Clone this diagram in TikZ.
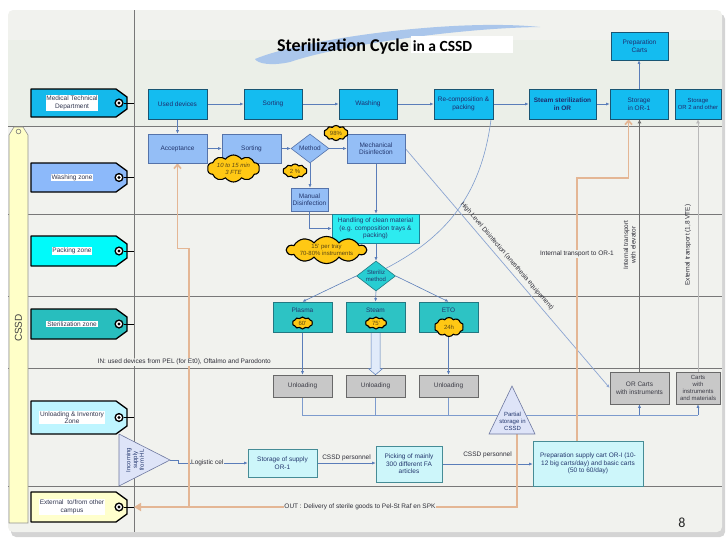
\documentclass[tikz,border=0pt]{standalone}
\usepackage{fontspec}
\setmainfont{Liberation Sans}
\newfontfamily\titlefont{Carlito}
\usetikzlibrary{shapes.geometric,shapes.symbols,arrows.meta,calc}
\pgfdeclarelayer{bg}
\pgfsetlayers{bg,main}

\definecolor{panel}{RGB}{241,242,238}
\definecolor{panelband}{RGB}{235,239,232}
\definecolor{shadowc}{RGB}{212,212,212}
\definecolor{lanec}{RGB}{120,120,120}
\definecolor{topfill}{RGB}{20,188,240}
\definecolor{topedge}{RGB}{25,85,115}
\definecolor{toptxt}{RGB}{30,45,110}
\definecolor{txt}{RGB}{35,55,110}
\definecolor{washfill}{RGB}{148,190,246}
\definecolor{washedge}{RGB}{85,115,170}
\definecolor{cyanfill}{RGB}{45,235,240}
\definecolor{cyanedge}{RGB}{30,130,150}
\definecolor{tealfill}{RGB}{45,195,196}
\definecolor{tealedge}{RGB}{35,120,130}
\definecolor{stdia}{RGB}{40,205,210}
\definecolor{grayfill}{RGB}{200,200,200}
\definecolor{grayedge}{RGB}{105,105,105}
\definecolor{graytxt}{RGB}{60,60,70}
\definecolor{lcfill}{RGB}{205,246,250}
\definecolor{lcedge}{RGB}{70,140,150}
\definecolor{trifill}{RGB}{222,228,248}
\definecolor{triedge}{RGB}{110,120,160}
\definecolor{gold}{RGB}{255,200,20}
\definecolor{cloudtxt}{RGB}{90,70,20}
\definecolor{flowc}{RGB}{90,125,185}
\definecolor{flowl}{RGB}{125,155,205}
\definecolor{hlc}{RGB}{140,165,210}
\definecolor{tanc}{RGB}{228,182,148}
\definecolor{grayline}{RGB}{110,110,110}
\definecolor{lgrayline}{RGB}{185,185,185}
\definecolor{lbltxt}{RGB}{45,45,55}
\definecolor{tagtxtc}{RGB}{50,55,80}
\definecolor{tagA}{RGB}{20,185,235}
\definecolor{tagB}{RGB}{140,185,250}
\definecolor{tagC}{RGB}{0,250,250}
\definecolor{tagD}{RGB}{40,190,190}
\definecolor{tagE}{RGB}{190,245,255}
\definecolor{tagF}{RGB}{255,255,205}
\definecolor{barfill}{RGB}{255,255,200}
\definecolor{swoosh}{RGB}{170,198,235}
\definecolor{hollowf}{RGB}{225,235,250}

\newcommand{\zonetag}[5]{%
  \filldraw[fill=#4,draw=black,line width=1.3pt,line join=round]
    (31,#2-#3) -- (116,#2-#3) -- (127,#2-#3+8) -- (127,#2+#3-8) -- (116,#2+#3) -- (31,#2+#3) -- cycle;
  \fill[black] (119,#2) circle (4.6pt);
  \fill[white] (119,#2) circle (3pt);
  \fill[black] (119,#2) circle (1.7pt);
  \draw[black,line width=1pt] (123.5,#2) -- (134,#2);
  \coordinate (#1pin) at (134,#2);
  \node[tagtxt] (#1) at (72,#2) {#5};
}

\begin{document}
\begin{tikzpicture}[x=1pt,y=-1pt,
  txtbase/.style={font=\fontsize{6.5}{7.6}\selectfont, align=center, inner sep=1pt, text=txt},
  topbox/.style={txtbase, draw=topedge, fill=topfill, line width=0.7pt, minimum height=30pt, text=toptxt},
  washbox/.style={txtbase, draw=washedge, fill=washfill, line width=0.6pt},
  cyanbox/.style={txtbase, draw=cyanedge, fill=cyanfill, line width=0.6pt},
  tealbox/.style={txtbase, draw=tealedge, fill=tealfill, line width=0.6pt, minimum width=59pt, minimum height=30pt},
  graybox/.style={txtbase, draw=grayedge, fill=grayfill, line width=0.6pt, text=graytxt},
  lcbox/.style={txtbase, draw=lcedge, fill=lcfill, line width=0.7pt},
  dia/.style={diamond, draw=washedge, fill=washfill, line width=0.6pt, inner sep=0pt},
  puff/.style={cloud, cloud puffs=10, cloud puff arc=110, cloud ignores aspect, draw=black, line width=1.1pt, fill=gold, inner sep=0pt, font=\fontsize{6}{7}\selectfont, align=center, text=cloudtxt},
  lbl/.style={txtbase, text=lbltxt},
  flow/.style={draw=flowc, line width=0.6pt, -{Latex[length=3.5pt,width=3pt]}},
  flowthin/.style={draw=flowl, line width=0.6pt},
  tanl/.style={draw=tanc, line width=1.7pt},
  lane/.style={draw=lanec, line width=0.7pt},
  tagtxt/.style={txtbase, fill=white, inner sep=0.8pt, text=tagtxtc},
]
\useasboundingbox (0,0) rectangle (728,546);

\begin{pgfonlayer}{bg}
  \fill[shadowc, rounded corners=5pt] (11,14) rectangle (725,537);
  \fill[panel, rounded corners=5pt] (8,10) rectangle (722,532);
  \fill[panelband] (8,40) rectangle (722,126);
  \fill[swoosh] (255,59) .. controls (300,40) and (450,18) .. (540,27)
     .. controls (460,28) and (340,45) .. (290,62)
     .. controls (272,66) and (258,64) .. (255,59) -- cycle;
  \fill[white] (411,36) rectangle (513,53);
  \foreach \yy in {126,214,296,368,486} \draw[lane] (8,\yy) -- (722,\yy);
  \draw[lane] (134,10) -- (134,532);
\end{pgfonlayer}

% title
\node[anchor=base west, inner sep=0, font=\titlefont\bfseries\fontsize{18}{20}\selectfont] (title) at (277,51) {Sterilization Cycle};
\node[anchor=base west, inner sep=0, font=\titlefont\bfseries\fontsize{15.5}{18}\selectfont] (title2) at ([xshift=3.5pt]title.base east) {in a CSSD};

% CSSD bar
\filldraw[fill=barfill, draw=lanec!80, line width=0.6pt] (9,135) -- (14,127) -- (23,127) -- (28,135) -- (28,523) -- (9,523) -- cycle;
\draw[lanec, line width=0.6pt] (18.5,131.5) circle (2.3pt);
\node[rotate=90, font=\fontsize{10}{12}\selectfont, text=black!75] (cssd) at (18.5,328) {CSSD};

% zone tags
\zonetag{mtd}{103}{14}{tagA}{Medical Technical\\Department}
\zonetag{washz}{177.5}{14.5}{tagB}{Washing zone}
\zonetag{packz}{251}{15}{tagC}{Packing zone}
\zonetag{sterz}{324}{15}{tagD}{Sterilization zone}
\zonetag{unlz}{417.5}{16.5}{tagE}{Unloading \& Inventory\\Zone}
\zonetag{extz}{507}{15}{tagF}{External\ \ to/from other\\campus}

% top row
\node[topbox, minimum width=59pt] (used) at (177.5,104) {Used devices};
\node[topbox, minimum width=58pt] (sort1) at (273,104) {Sorting};
\node[topbox, minimum width=58pt] (wash) at (368,104) {Washing};
\node[topbox, minimum width=59pt] (recomp) at (463.5,104) {Re-composition \&\\packing};
\node[topbox, minimum width=67pt, font=\fontsize{6.5}{7.6}\selectfont\bfseries] (steam) at (562.5,104) {Steam sterilization\\in OR};
\node[topbox, minimum width=58pt] (stor1) at (639,104) {Storage\\in OR-1};
\node[topbox, minimum width=46pt, inner sep=0pt, font=\fontsize{5.9}{7.2}\selectfont] (stor2) at (698,104) {Storage\\OR 2 and other};
\node[topbox, minimum width=57pt, minimum height=28pt] (prepcarts) at (639.5,46) {Preparation\\Carts};

% washing zone
\node[washbox, minimum width=59pt, minimum height=29pt] (accept) at (177.5,148.5) {Acceptance};
\node[washbox, minimum width=59pt, minimum height=29pt] (sort2) at (251.5,148.5) {Sorting};
\node[dia, minimum width=38pt, minimum height=29pt] (method) at (310,148.5) {};
\node[txtbase] (methodL) at (method) {Method};
\node[washbox, minimum width=58pt, minimum height=29pt] (mech) at (376,148.5) {Mechanical\\Disinfection};
\node[washbox, minimum width=37pt, minimum height=23pt, inner sep=0pt] (manual) at (309.5,199.5) {Manual\\Disinfection};
\node[puff, minimum width=24pt, minimum height=15pt] (c98) at (336,133) {98\%};
\node[puff, minimum width=52pt, minimum height=27pt, font=\itshape\fontsize{6}{7}\selectfont] (c1015) at (233.5,168.5) {10 to 15 min\\3 FTE};
\node[puff, minimum width=24pt, minimum height=14pt] (c2) at (295,171) {2 \%};

% packing zone
\node[cyanbox, minimum width=87pt, minimum height=29pt] (handling) at (375.5,228.5) {Handling of clean material\\(e.g. composition trays \&\\packing)};
\node[puff, minimum width=79pt, minimum height=24pt] (c15) at (326.5,250) {15' per tray\\70-80\% instruments};
\node[dia, draw=tealedge, fill=stdia, minimum width=39pt, minimum height=30pt] (sterdia) at (376,276) {};
\node[txtbase, font=\fontsize{6}{6.8}\selectfont] (sterdiaL) at (sterdia) {Steriliz\\method};

% sterilization zone
\node[tealbox] (plasma) at (302.5,317) {};
\node[txtbase] (plasmaL) at (302.5,310.5) {Plasma};
\node[puff, minimum width=20pt, minimum height=12pt] (c60) at (302.5,323) {60'};
\node[tealbox] (steambox) at (375.5,317) {};
\node[txtbase] (steamL) at (375.5,310.5) {Steam};
\node[puff, minimum width=21pt, minimum height=12pt] (c75) at (376,323) {75'};
\node[tealbox] (eto) at (448.5,317) {};
\node[txtbase] (etoL) at (448.5,310.5) {ETO};
\node[puff, minimum width=29pt, minimum height=19pt] (c24) at (449,327) {24h};
\node[lbl, anchor=west, fill=panel, inner sep=0.5pt] (intext) at (97,362) {IN: used devices from PEL (for Et0), Oftalmo and Parodonto};

% unloading & inventory zone
\node[graybox, minimum width=59pt, minimum height=22pt] (unl1) at (302.5,386) {Unloading};
\node[graybox, minimum width=59pt, minimum height=22pt] (unl2) at (375.5,386) {Unloading};
\node[graybox, minimum width=59pt, minimum height=22pt] (unl3) at (448.5,386) {Unloading};
\node[graybox, minimum width=59pt, minimum height=32pt] (orcarts) at (639.5,388) {OR Carts\\with instruments};
\node[graybox, minimum width=44pt, minimum height=32pt, inner sep=0pt, font=\fontsize{6}{7}\selectfont] (carts) at (698,388) {Carts\\with\\instruments\\and materials};
\filldraw[fill=trifill, draw=triedge, line width=0.6pt] (512,386) -- (535,434) -- (489,434) -- cycle;
\node[txtbase, font=\fontsize{6}{7}\selectfont] (partial) at (512.5,421) {Partial\\storage in\\CSSD};
\coordinate (partialbase) at (517,434);
\filldraw[fill=trifill, draw=triedge, line width=0.6pt] (119,434) -- (170,460) -- (119,486) -- cycle;
\node[txtbase, rotate=90, font=\fontsize{6}{6.8}\selectfont] (incoming) at (135,460) {Incoming\\supply\\from HL};
\coordinate (incapex) at (170,460);
\node[lcbox, minimum width=69pt, minimum height=28pt] (storsup) at (282.5,463) {Storage of supply\\OR-1};
\node[lcbox, minimum width=66pt, minimum height=36pt] (picking) at (409,464) {Picking of mainly\\300 different FA\\articles};
\node[lcbox, minimum width=110pt, minimum height=45pt] (prepsup) at (588,463.5) {Preparation supply cart OR-I (10-\\12 big carts/day) and basic carts\\(50 to 60/day)};

% free labels
\node[lbl, fill=panel, inner sep=0.5pt] (int1) at (577,254) {Internal transport to OR-1};
\node[lbl, rotate=90] (inttr) at (629.5,245) {Internal transport\\with elevator};
\node[lbl, rotate=90] (exttr) at (688,245) {External transport (1,8 VTE)};
\node[font=\titlefont\fontsize{14}{16}\selectfont, text=black!85] (pagenum) at (682,523) {8};

% connectors
\begin{pgfonlayer}{bg}
  \coordinate (t178) at (0,178);
  \coordinate (t248) at (0,248.5);
  \coordinate (t507) at (0,507);
  \coordinate (bus) at (0,415);
  \coordinate (tanA) at (189,507);
  \coordinate (tanC) at ($(prepsup.north)+(-11,0)$);
  \coordinate (tanD) at ($(stor1.south)+(-10.5,0)$);

  \draw[flow] (used) -- (sort1);
  \draw[flow] (sort1) -- (wash);
  \draw[flow] (wash) -- (recomp);
  \draw[flow] (recomp) -- (steam);
  \draw[flow] (steam) -- (stor1);
  \draw[flow] (stor1.north) -- (stor1.north |- prepcarts.south);
  \draw[flow] (used) -- (accept);
  \draw[flow] (accept) -- (sort2);
  \draw[flow] (sort2) -- (method);
  \draw[flow] (method) -- (mech);
  \draw[flow] (method.south) -- (method.south |- manual.north);
  \draw[flow] (manual.south) |- (handling.west);
  \draw[flow] (mech.south) -- (mech.south |- handling.north);
  \draw[flow] (handling.south -| sterdia.north) -- (sterdia.north);
  \draw[flow] (sterdia.west) -- (plasma.north);
  \draw[flow] (sterdia.south) -- (steambox.north);
  \draw[flow] (sterdia.east) -- (eto.north);
  \draw[flow] (plasma) -- (unl1);
  \draw[flow] (eto) -- (unl3);
  \filldraw[fill=hollowf, draw=flowc, line width=0.5pt]
    ($(steambox.south)+(-4.5,0)$) -- ($(steambox.south)+(4.5,0)$) -- ($(unl2.north)+(4.5,-6)$)
    -- ($(unl2.north)+(7,-6)$) -- (unl2.north) -- ($(unl2.north)+(-7,-6)$) -- ($(unl2.north)+(-4.5,-6)$) -- cycle;
  \draw[flowthin] ($(recomp.east)+(-1,3)$) .. controls (485,190) and (450,235) .. (sterdia.north east);
  \draw[draw=hlc, line width=0.7pt, -{Latex[length=3.5pt,width=3pt]}] (mech.east) --
     node[lbl, sloped, above=3pt, pos=0.47] {High Level Disinfection (anesthesia equipement)} (orcarts.west);
  \draw[flowthin] (unl1.south) -- (unl1.south |- bus) -- (carts.south |- bus);
  \draw[flowthin] (unl2.south) -- (unl2.south |- bus);
  \draw[flowthin] (unl3.south) -- (unl3.south |- bus);
  \draw[flow] (orcarts.south |- bus) -- (orcarts.south);
  \draw[flow] (carts.south |- bus) -- (carts.south);
  \draw[draw=grayline, line width=0.9pt, -{Latex[length=4pt,width=4pt]}] (orcarts.north) -- (orcarts.north |- stor1.south);
  \draw[draw=lgrayline, line width=0.9pt, -{Latex[length=4pt,width=4pt]}] (carts.north) -- (carts.north |- stor2.south);
  \draw[flow] (incapex) -- ++(8,0) -- ++(0,3) -- node[lbl, fill=panel, inner sep=0.5pt, pos=0.42] {Logistic cel} (storsup.west);
  \draw[flow] (storsup.east) -- node[lbl, above=1pt] {CSSD personnel} (storsup.east -| picking.west);
  \draw[flow] (picking.east) -- node[lbl, above=5pt] {CSSD personnel} (picking.east -| prepsup.west);
  \draw[tanl, -{Straight Barb[length=4pt,width=7pt]}] (tanA) -- (tanA |- t248) -- (accept.south |- t248) -- (accept.south);
  \draw[tanl, -{Straight Barb[length=4pt,width=7pt]}] (tanC) -- (tanC |- t178) -- (tanD |- t178) -- (tanD);
  \draw[tanl, -{Triangle[length=7pt,width=8pt]}] (partialbase) -- (partialbase |- t507) --
     node[lbl, fill=panel, inner sep=0.5pt, pos=0.41] {OUT : Delivery of sterile goods to Pel-St Raf en SPK} (extzpin);
\end{pgfonlayer}
\end{tikzpicture}
\end{document}
